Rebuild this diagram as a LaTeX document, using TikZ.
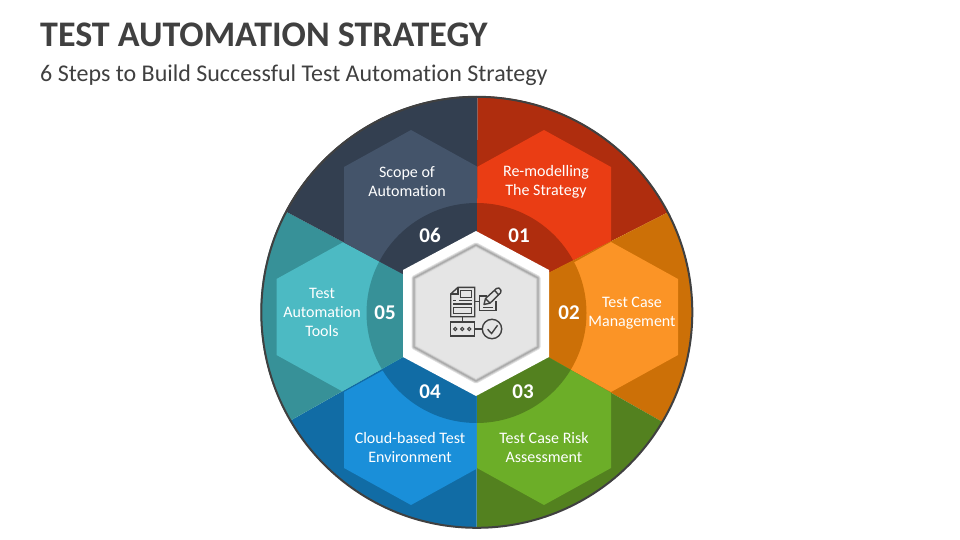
\documentclass[tikz,border=0pt]{standalone}
\usepackage{fontspec}
\setmainfont[RawFeature={-liga;-clig;-dlig}]{Carlito}
\definecolor{d1}{HTML}{AF2D0E}\definecolor{l1}{HTML}{EA3D14}
\definecolor{d2}{HTML}{CC7007}\definecolor{l2}{HTML}{FB9426}
\definecolor{d3}{HTML}{53811F}\definecolor{l3}{HTML}{6CAE28}
\definecolor{d4}{HTML}{116CA5}\definecolor{l4}{HTML}{1A8FD9}
\definecolor{d5}{HTML}{379198}\definecolor{l5}{HTML}{4CBAC3}
\definecolor{d6}{HTML}{333F50}\definecolor{l6}{HTML}{44546A}
\definecolor{ink}{HTML}{404040}
\tikzset{
  lab/.style={text=white,align=center,font=\fontsize{16}{19}\selectfont,inner sep=0pt},
  num/.style={text=white,font=\fontsize{21}{21}\selectfont\bfseries,inner sep=0pt},
  icon/.style={draw=ink,line width=1.4pt,fill=none}
}
\newcommand{\sector}[4]{%
  \begin{scope}
    \clip #1;
    \fill[#2] (476.5,312) circle[radius=216];
    \fill[#3,shift={(#4)}] (0,-75)--(67,-38)--(67,38)--(0,75)--(-67,38)--(-67,-38)--cycle;
    \fill[#2] (476.5,313) circle[radius=110];
  \end{scope}}
\begin{document}
\begin{tikzpicture}[x=1pt,y=-1pt]
\useasboundingbox (0,0) rectangle (960,540);
\fill[white] (0,0) rectangle (960,540);
\node[anchor=west,inner sep=0pt,text=ink] (title) at (40,34.5) {\fontsize{36}{36}\selectfont\bfseries TEST AUTOMATION STRATEGY};
\node[anchor=west,inner sep=0pt,text=ink] (subtitle) at (40,75) {\fontsize{24}{24}\selectfont 6 Steps to Build Successful Test Automation Strategy};
\coordinate (C) at (476.5,313);
\sector{(C)--(477.5,80)--(710,80)--(710,191)--(549,272.7)--cycle}{d1}{l1}{544,205}
\sector{(C)--(549,272.7)--(710,191)--(710,449)--(548,357)--cycle}{d2}{l2}{611,317}
\sector{(C)--(548,357)--(710,449)--(710,540)--(476.5,540)--cycle}{d3}{l3}{544,430}
\sector{(C)--(476.5,540)--(240,540)--(240,449)--(403,357)--cycle}{d4}{l4}{411,430}
\sector{(C)--(403,357)--(240,449)--(240,187)--(403,274)--cycle}{d5}{l5}{343.5,317}
\sector{(C)--(403,274)--(240,187)--(240,80)--(477.5,80)--cycle}{d6}{l6}{411,205}
\draw[ink,line width=2pt] (476.8,312.3) circle[radius=215.5];
% central hexagon
\fill[white] (476,231)--(549,270)--(549,357)--(476,396)--(403,357)--(403,270)--cycle;
\path[fill=black!10,draw=black!12,line width=5pt,line join=round] (476,245)--(538,278)--(538,347)--(476,381)--(414,347)--(414,278)--cycle;
\draw[black!22,line width=3.2pt,line join=round] (476,245)--(538,278)--(538,347)--(476,381)--(414,347)--(414,278)--cycle;
\draw[black!33,line width=1.4pt,line join=round] (476,245)--(538,278)--(538,347)--(476,381)--(414,347)--(414,278)--cycle;
% icon
\draw[icon,line join=miter] (458,287.3)--(474.7,287.3)--(474.7,316.7)--(450.7,316.7)--(450.7,294)--cycle;
\draw[icon] (458,287.3)--(458,294)--(450.7,294);
\draw[icon] (460.7,290.7) rectangle (471.7,297.3);
\draw[icon] (453.3,300.5)--(456,300.5) (458.5,300.5)--(471.7,300.5);
\draw[icon] (453.3,304)--(471.7,304);
\draw[icon] (453.3,307.6) rectangle (471.7,313.4);
\draw[icon] (474.7,301.7)--(479.3,301.7);
\draw[icon] (487,296)--(479.3,296)--(479.3,310.7)--(496,310.7)--(496,301);
\draw[icon] (483.3,307.3)--(492.7,307.3);
\draw[icon,line join=round] (484,304.5)--(485.5,298.5)--(496.5,288.5)--(499,288)--(501,290.5)--(500.5,293)--(490,303.2)--cycle;
\draw[icon] (485.5,298.5)--(490,303.2) (494.5,290.3)--(498.8,295);
\draw[icon] (462.3,316.7)--(462.3,322);
\draw[icon] (450.7,322) rectangle (474.7,336);
\draw[icon,line width=1.1pt] (455.3,329) circle[radius=1.6] (462.3,329) circle[radius=1.6] (469.3,329) circle[radius=1.6];
\draw[icon] (474.7,329)--(482.3,329);
\draw[icon] (492,329) circle[radius=9.7];
\draw[icon] (487.6,329.3)--(491.6,333.5)--(497.5,325.3);
% labels
\node[lab] (t1) at (546,182) {Re-modelling\\The Strategy};
\node[lab] (t2) at (632,313) {Test Case\\Management};
\node[lab] (t3) at (544,447.5) {Test Case Risk\\Assessment};
\node[lab] (t4) at (410,447.5) {Cloud-based Test\\Environment};
\node[lab] (t5) at (322,312.5) {Test\\Automation\\Tools};
\node[lab] (t6) at (407,182) {Scope of\\Automation};
\node[num] (n1) at (519,235.5) {01};
\node[num] (n2) at (569,312.5) {02};
\node[num] (n3) at (523,391.5) {03};
\node[num] (n4) at (430,391.5) {04};
\node[num] (n5) at (385,312.5) {05};
\node[num] (n6) at (430,235.5) {06};
\end{tikzpicture}
\end{document}
